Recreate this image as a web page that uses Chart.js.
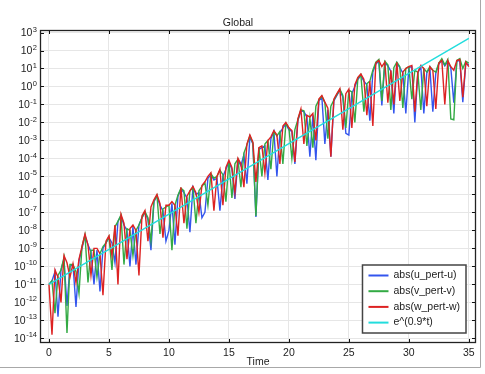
<!DOCTYPE html>
<html>
<head>
<meta charset="utf-8">
<script src="https://cdn.jsdelivr.net/npm/chart.js@4.4.0/dist/chart.umd.min.js"></script>
<style>
  html, body { margin: 0; padding: 0; background: #fff; }
</style>
</head>
<body>
<canvas id="chart" width="485" height="374"></canvas>
<script>
// sample times (shared by the three perturbation series)
const times = [
  0,0.25,0.5,0.75, 1,1.25,1.5,1.75, 2,2.25,2.5,2.75, 3,3.25,3.5,3.75,
  4,4.25,4.5,4.75, 5,5.25,5.5,5.75, 6,6.25,6.5,6.75, 7,7.25,7.5,7.75,
  8,8.25,8.5,8.75, 9,9.25,9.5,9.75, 10,10.25,10.5,10.75, 11,11.25,11.5,11.75,
  12,12.25,12.5,12.75, 13,13.25,13.5,13.75, 14,14.25,14.5,14.75, 15,15.25,15.5,15.75,
  16,16.25,16.5,16.75, 17,17.25,17.5,17.75, 18,18.25,18.5,18.75, 19,19.25,19.5,19.75,
  20,20.25,20.5,20.75, 21,21.25,21.5,21.75, 22,22.25,22.5,22.75, 23,23.25,23.5,23.75,
  24,24.25,24.5,24.75, 25,25.25,25.5,25.75, 26,26.25,26.5,26.75, 27,27.25,27.5,27.75,
  28,28.25,28.5,28.75, 29,29.25,29.5,29.75, 30,30.25,30.5,30.75, 31,31.25,31.5,31.75,
  32,32.25,32.5,32.75, 33,33.25,33.5,33.75, 34,34.25,34.5,34.75, 35
];

// values, stored as powers of ten (log10 of the value)
const uExp = [
  -11.0,-10.8,-10.3,-12.8, -10.2,-9.6,-12.2,-10.0, -9.9,-12.25,-9.7,-9.0, -8.3,-8.8,-9.2,-11.0,
  -9.1,-11.4,-9.0,-8.7, -8.4,-8.7,-9.8,-7.5, -7.2,-7.7,-8.0,-10.0, -7.8,-9.9,-7.7,-7.3,
  -7.0,-7.4,-9.1,-6.4, -6.1,-6.6,-6.9,-8.6, -8.0,-6.5,-8.8,-6.1, -5.7,-5.9,-6.2,-8.1,
  -5.6,-6.0,-5.9,-7.3, -7.0,-5.1,-4.9,-5.2, -5.1,-6.9,-5.0,-4.6, -4.2,-4.6,-6.25,-4.1,
  -4.4,-3.8,-5.4,-2.8, -3.2,-7.25,-3.5,-3.4, -3.3,-5.2,-2.9,-2.5, -5.0,-2.6,-2.3,-2.1,
  -2.4,-2.5,-4.3,-1.9, -1.35,-1.4,-1.7,-3.9, -1.6,-4.1,-0.8,-0.6, -3.2,-1.3,-3.9,-0.8,
  -0.5,-0.2,-0.6,-2.6, -2.7,-0.4,0.0,0.4, 0.6,0.3,0.1,-1.9, 0.8,1.25,1.4,-1.05,
  1.3,1.15,0.85,-1.5, 1.3,1.05,0.75,-1.5, 1.05,1.1,-2.0,0.75, 1.1,-1.5,0.75,1.05,
  -1.4,0.75,1.25,1.45, 1.15,1.4,1.05,-0.9, 1.4,1.45,-0.87,1.3, 1.2
];
const vExp = [
  -11.0,-10.8,-12.6,-10.5, -10.2,-9.5,-13.7,-9.9, -9.9,-10.3,-11.5,-8.9, -8.25,-10.9,-9.1,-9.1,
  -10.6,-9.3,-8.9,-8.7, -8.35,-10.2,-7.8,-7.5, -7.15,-9.9,-7.9,-8.0, -9.4,-8.0,-7.7,-7.3,
  -6.95,-7.3,-8.6,-6.35, -6.05,-8.2,-6.8,-6.7, -6.6,-9.1,-6.6,-6.05, -5.65,-5.8,-7.9,-5.8,
  -5.6,-7.6,-5.8,-5.55, -5.35,-6.6,-4.85,-5.1, -5.0,-4.65,-4.9,-6.4, -4.15,-6.2,-4.3,-4.05,
  -5.6,-3.7,-3.25,-2.75, -3.15,-7.2,-3.4,-5.0, -3.2,-3.0,-4.6,-2.5, -2.75,-2.5,-4.3,-2.05,
  -2.3,-4.0,-2.4,-1.85, -1.3,-1.35,-3.3,-1.75, -3.4,-1.1,-0.75,-0.55, -0.9,-2.9,-1.1,-0.75,
  -0.45,-0.15,-0.5,-2.3, -0.2,-0.3,-2.0,0.45, 0.65,-1.4,0.15,0.3, 0.9,1.35,1.5,-0.8,
  1.4,1.2,-1.3,1.05, 1.35,1.1,-1.2,1.0, 1.1,-0.7,0.9,0.8, -1.3,1.0,0.8,1.1,
  0.9,0.8,1.3,1.55, 1.2,1.5,-1.8,-1.85, 1.45,1.55,1.0,1.4, 1.3
];
const wExp = [
  -11.0,-13.8,-10.2,-10.6, -12.0,-9.4,-9.8,-10.6, -9.85,-10.9,-9.6,-8.9, -8.2,-8.8,-10.5,-9.0,
  -9.0,-9.3,-11.6,-8.6, -8.3,-9.4,-7.7,-11.0, -7.1,-7.6,-9.6,-7.9, -7.7,-8.0,-10.5,-7.2,
  -6.9,-8.6,-6.7,-6.3, -6.0,-6.5,-8.4,-6.6, -6.6,-6.4,-6.6,-8.3, -5.6,-7.6,-6.1,-5.8,
  -5.55,-5.9,-7.0,-5.5, -5.3,-5.0,-4.8,-6.9, -5.0,-4.6,-6.6,-4.5, -4.1,-4.5,-5.9,-4.0,
  -4.3,-5.6,-3.2,-2.7, -3.1,-5.3,-3.4,-3.3, -4.8,-3.0,-2.8,-2.45, -2.7,-4.3,-2.2,-2.0,
  -2.3,-2.45,-4.2,-1.8, -1.25,-3.2,-1.6,-1.7, -1.5,-3.0,-0.7,-0.5, -0.87,-1.2,-3.9,-0.7,
  -0.4,-0.13,-2.4,-0.4, -0.15,-2.3,0.1,0.5, 0.7,0.4,-1.6,0.3, -2.2,1.3,1.45,1.1,
  1.35,-0.9,0.9,-1.0, 1.35,-0.8,0.8,1.0, 1.1,1.17,-1.4,0.8, 1.17,1.0,-1.1,1.1,
  0.9,-1.25,1.3,1.45, -1.0,1.44,1.1,0.9, 1.44,1.5,-0.6,1.35, 1.1
];

// reference curve e^(0.9*t), read at a few times
const refTimes = [0, 5, 10, 15, 20, 25, 30, 35];
const refExp = [-11.0, -9.05, -7.09, -5.14, -3.18, -1.23, 0.73, 2.68];

const xTicks = [0, 5, 10, 15, 20, 25, 30, 35];
const yExps = [-14,-13,-12,-11,-10,-9,-8,-7,-6,-5,-4,-3,-2,-1,0,1,2,3];

const FONT = '"Liberation Sans", Arial, sans-serif';
const TEXT = '#222';

function toPoints(ts, exps) {
  return ts.map((t, i) => ({ x: t, y: Math.pow(10, exps[i]) }));
}

const boxPlugin = {
  id: 'boxPlugin',
  afterDatasetsDraw(chart) {
    const { ctx, chartArea: a, scales } = chart;
    ctx.save();
    ctx.strokeStyle = '#111';
    ctx.lineWidth = 1;
    ctx.beginPath();
    xTicks.forEach(v => {
      const px = Math.round(scales.x.getPixelForValue(v)) + 0.5;
      ctx.moveTo(px, a.bottom); ctx.lineTo(px, a.bottom - 4);
      ctx.moveTo(px, a.top); ctx.lineTo(px, a.top + 4);
    });
    yExps.forEach(e => {
      const py = Math.round(scales.y.getPixelForValue(Math.pow(10, e))) + 0.5;
      ctx.moveTo(a.left, py); ctx.lineTo(a.left + 4, py);
      ctx.moveTo(a.right, py); ctx.lineTo(a.right - 4, py);
    });
    ctx.stroke();
    ctx.lineWidth = 1.3;
    ctx.strokeStyle = '#222';
    ctx.strokeRect(a.left + 0.5, a.top + 0.5, a.width - 1, a.height - 1);

    // y tick labels as 10 with superscript exponent
    ctx.fillStyle = TEXT;
    ctx.textAlign = 'right';
    ctx.textBaseline = 'middle';
    yExps.forEach(e => {
      const py = scales.y.getPixelForValue(Math.pow(10, e));
      const sup = String(e);
      ctx.font = '7.5px ' + FONT;
      const w = ctx.measureText(sup).width;
      ctx.fillText(sup, a.left - 3, py - 3);
      ctx.font = '10.5px ' + FONT;
      ctx.fillText('10', a.left - 3 - w - 0.5, py + 1);
    });
    ctx.restore();
  },
  afterDraw(chart) {
    const { ctx, chartArea: a } = chart;
    const sets = chart.data.datasets;
    ctx.save();
    ctx.font = '10.5px ' + FONT;
    let tw = 0;
    sets.forEach(d => { tw = Math.max(tw, ctx.measureText(d.label).width); });
    const bw = 6 + 20 + 5 + tw + 6;
    const bh = 68;
    const bx = a.right - 10 - bw;
    const by = a.bottom - 10 - bh;
    ctx.fillStyle = '#fff';
    ctx.fillRect(bx, by, bw, bh);
    ctx.strokeStyle = '#444';
    ctx.lineWidth = 1.5;
    ctx.strokeRect(bx, by, bw, bh);
    ctx.textAlign = 'left';
    ctx.textBaseline = 'middle';
    sets.forEach((d, i) => {
      const ry = by + 10.5 + i * 15.7;
      ctx.strokeStyle = d.borderColor;
      ctx.lineWidth = 2;
      ctx.beginPath();
      ctx.moveTo(bx + 6, ry); ctx.lineTo(bx + 26, ry);
      ctx.stroke();
      ctx.fillStyle = TEXT;
      ctx.fillText(d.label, bx + 31, ry);
    });

    // outer figure frame
    ctx.strokeStyle = '#a8a8a8';
    ctx.lineWidth = 1;
    ctx.beginPath();
    ctx.moveTo(480.5, 0); ctx.lineTo(480.5, 367.5);
    ctx.lineTo(0, 367.5);
    ctx.stroke();
    ctx.restore();
  }
};

new Chart(document.getElementById('chart'), {
  type: 'line',
  data: {
    datasets: [
      { label: 'abs(u_pert-u)', data: toPoints(times, uExp), borderColor: '#3355ee', order: 3 },
      { label: 'abs(v_pert-v)', data: toPoints(times, vExp), borderColor: '#33aa44', order: 2 },
      { label: 'abs(w_pert-w)', data: toPoints(times, wExp), borderColor: '#dd2222', order: 1 },
      { label: 'e^(0.9*t)', data: toPoints(refTimes, refExp), borderColor: '#22dddd', order: 0 }
    ]
  },
  options: {
    responsive: false,
    animation: false,
    layout: { padding: { left: 0, right: 9, top: 0, bottom: 0 } },
    elements: {
      line: { borderWidth: 1.4, tension: 0, fill: false },
      point: { radius: 0, hoverRadius: 0 }
    },
    scales: {
      x: {
        type: 'linear',
        min: -0.75,
        max: 35.6,
        afterBuildTicks: s => { s.ticks = xTicks.map(v => ({ value: v })); },
        afterFit: s => { s.height = 31; },
        ticks: { font: { size: 10.5, family: FONT }, color: TEXT, padding: 4, maxRotation: 0, autoSkip: false },
        grid: { color: '#e6e6e6', drawTicks: false },
        border: { display: false },
        title: {
          display: true, text: 'Time', color: TEXT,
          font: { size: 10.5, family: FONT },
          padding: { top: 0, bottom: 5.7 }
        }
      },
      y: {
        type: 'logarithmic',
        min: Math.pow(10, -14.26),
        max: Math.pow(10, 3.14),
        afterBuildTicks: s => { s.ticks = yExps.map(e => ({ value: Math.pow(10, e) })); },
        afterFit: s => { s.width = 40; },
        ticks: { callback: () => '', autoSkip: false },
        grid: { color: '#e6e6e6', drawTicks: false },
        border: { display: false }
      }
    },
    plugins: {
      legend: { display: false },
      tooltip: { enabled: false },
      title: {
        display: true, text: 'Global', color: TEXT,
        font: { size: 10.5, family: FONT, weight: 'normal' },
        padding: { top: 17, bottom: 0.4 }
      }
    }
  },
  plugins: [boxPlugin]
});
</script>
</body>
</html>
